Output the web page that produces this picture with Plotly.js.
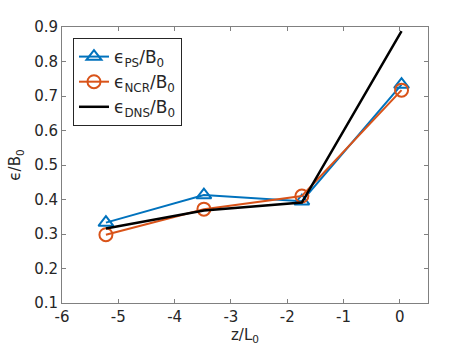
<!DOCTYPE html>
<html><head><meta charset="utf-8">
<script src="https://cdn.plot.ly/plotly-3.0.1.min.js"></script>
<style>html,body{margin:0;padding:0;background:#fff}#plot{width:474px;height:355px}</style>
</head><body><div id="plot"></div>
<script>
const zPos = [-5.22, -3.48, -1.74, 0.03];
const epsPS = [0.333, 0.413, 0.395, 0.733];
const epsNCR = [0.298, 0.372, 0.410, 0.717];
const epsDNS = [0.316, 0.368, 0.391, 0.888];
const seriesNames = ['ϵ<sub>PS</sub>/B<sub>0</sub>', 'ϵ<sub>NCR</sub>/B<sub>0</sub>', 'ϵ<sub>DNS</sub>/B<sub>0</sub>'];
const xTickVals = [-6, -5, -4, -3, -2, -1, 0];
const xTickText = ['-6', '-5', '-4', '-3', '-2', '-1', '0'];
const yTickVals = [0.1, 0.2, 0.3, 0.4, 0.5, 0.6, 0.7, 0.8, 0.9];
const yTickText = ['0.1', '0.2', '0.3', '0.4', '0.5', '0.6', '0.7', '0.8', '0.9'];

const font = 'DejaVu Sans, sans-serif';
const traces = [
  {x: zPos, y: epsPS, name: seriesNames[0], mode: 'lines+markers',
   line: {color: '#0072BD', width: 2}, marker: {symbol: 'triangle-up-open', size: 13, color: '#0072BD', line: {width: 2}}},
  {x: zPos, y: epsNCR, name: seriesNames[1], mode: 'lines+markers',
   line: {color: '#D95319', width: 2}, marker: {symbol: 'circle-open', size: 13, color: '#D95319', line: {width: 2}}},
  {x: zPos, y: epsDNS, name: seriesNames[2], mode: 'lines',
   line: {color: '#000000', width: 2.5}}
];
const axisCommon = {showgrid: false, zeroline: false, showline: true, linecolor: '#808080', linewidth: 1,
  mirror: 'ticks', ticks: 'inside', ticklen: 4, tickcolor: '#808080', tickmode: 'array',
  tickfont: {family: font, size: 15, color: '#262626'}};
const layout = {
  width: 474, height: 355,
  margin: {l: 62, r: 46, t: 27, b: 52},
  paper_bgcolor: '#fff', plot_bgcolor: '#fff',
  font: {family: font, color: '#262626'},
  xaxis: Object.assign({}, axisCommon, {range: [-6, 0.5], tickvals: xTickVals, ticktext: xTickText,
    title: {text: 'z/L<sub>0</sub>', font: {family: font, size: 15, color: '#262626'}, standoff: 4}}),
  yaxis: Object.assign({}, axisCommon, {range: [0.1, 0.9], tickvals: yTickVals, ticktext: yTickText,
    title: {text: 'ϵ/B<sub>0</sub>', font: {family: font, size: 15, color: '#262626'}, standoff: 9}}),
  showlegend: true,
  legend: {x: 0.03, y: 0.96, xanchor: 'left', yanchor: 'top', bgcolor: '#fff',
    bordercolor: '#262626', borderwidth: 1, font: {family: font, size: 17, color: '#262626'},
    tracegroupgap: 0, itemwidth: 30}
};
Plotly.newPlot('plot', traces, layout, {displayModeBar: false, staticPlot: true});
</script></body></html>
